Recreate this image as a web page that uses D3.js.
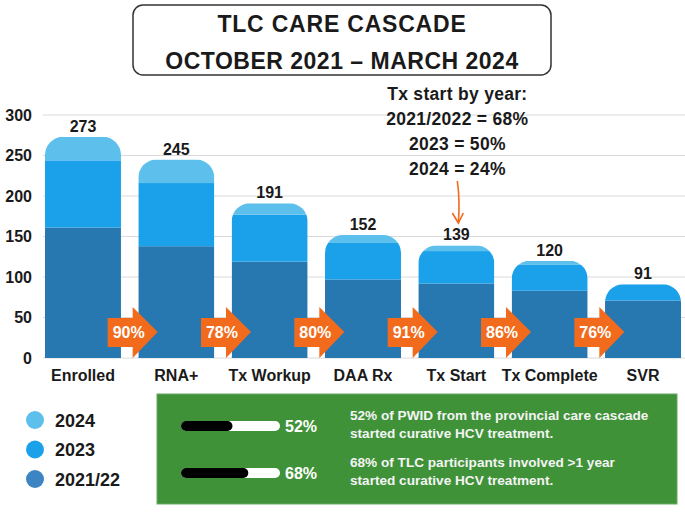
<!DOCTYPE html>
<html>
<head>
<meta charset="utf-8">
<script src="https://cdn.jsdelivr.net/npm/d3@7"></script>
<style>
  body { margin: 0; background: #fff; }
  svg { display: block; font-family: "Liberation Sans", Arial, sans-serif; font-weight: bold; }
</style>
</head>
<body>
<svg width="685" height="514"></svg>
<script>
// chart data
var stages = ['Enrolled', 'RNA+', 'Tx Workup', 'DAA Rx', 'Tx Start', 'Tx Complete', 'SVR'];
var y2122 = [161, 138, 119, 97, 92, 83, 71];
var y2023 = [83, 78, 58, 45, 40, 32, 20];
var y2024 = [29, 29, 14, 10, 7, 5, 0];
var totals = [273, 245, 191, 152, 139, 120, 91];
var stepPct = [90, 78, 80, 91, 86, 76];
var yTicks = [0, 50, 100, 150, 200, 250, 300];
var yearNotes = ['Tx start by year:', '2021/2022 = 68%', '2023 = 50%', '2024 = 24%'];
var legendYears = ['2024', '2023', '2021/22'];
var boxPct = [52, 68];
var boxNotes = [
  ['52% of PWID from the provincial care cascade', 'started curative HCV treatment.'],
  ['68% of TLC participants involved >1 year', 'started curative HCV treatment.']
];

var svg = d3.select('svg');
var ink = '#1a1a1a';
var orange = '#f26a1b';
var cols = {y2122: '#2777b1', y2023: '#1aa1ea', y2024: '#5dc0ec'};

// scales
var x = d3.scaleBand().domain(stages).range([45, 681]).paddingInner(0.186).paddingOuter(0);
var y = d3.scaleLinear().domain([0, 300]).range([358, 115]);
var bw = x.bandwidth();

// title box
svg.append('rect')
  .attr('x', 133).attr('y', 5).attr('width', 418).attr('height', 70)
  .attr('rx', 10)
  .style('fill', '#fff').style('stroke', '#333').style('stroke-width', 1.5);
svg.selectAll('text.title')
  .data(['TLC CARE CASCADE', 'OCTOBER 2021 \u2013 MARCH 2024'])
  .enter().append('text')
  .attr('class', 'title')
  .attr('x', 342)
  .attr('y', function(d, i) {return 32 + i * 36.5;})
  .attr('text-anchor', 'middle')
  .style('font-size', '23px')
  .style('letter-spacing', function(d, i) {return i ? '0.5px' : '0.8px';})
  .style('fill', ink)
  .text(function(d) {return d;});

// gridlines
svg.selectAll('line.grid')
  .data(yTicks)
  .enter().append('line')
  .attr('class', 'grid')
  .attr('x1', 43).attr('x2', 685)
  .attr('y1', function(d) {return y(d);})
  .attr('y2', function(d) {return y(d);})
  .style('stroke', '#dadada').style('stroke-width', 1);

// y axis labels
var yAxis = svg.append('g')
  .attr('transform', 'translate(40,0)')
  .call(d3.axisLeft(y).tickValues(yTicks).tickSize(0).tickPadding(8));
yAxis.select('.domain').remove();
yAxis.selectAll('text')
  .style('font-size', '16px').style('font-weight', 'bold')
  .style('font-family', '"Liberation Sans", Arial, sans-serif')
  .style('fill', ink);

// stacked bars, rounded on top via clip paths
var rows = stages.map(function(s, i) {
  return {stage: s, y2122: y2122[i], y2023: y2023[i], y2024: y2024[i], total: totals[i]};
});
var series = d3.stack().keys(['y2122', 'y2023', 'y2024'])(rows);

var defs = svg.append('defs');
defs.selectAll('clipPath')
  .data(rows)
  .enter().append('clipPath')
  .attr('id', function(d, i) {return 'clip-' + i;})
  .append('rect')
  .attr('x', function(d) {return x(d.stage);})
  .attr('y', function(d) {return y(d.y2122 + d.y2023 + d.y2024);})
  .attr('width', bw)
  .attr('height', function(d) {return y(0) - y(d.y2122 + d.y2023 + d.y2024) + 30;})
  .attr('rx', 18);

var bars = svg.selectAll('g.bar')
  .data(rows)
  .enter().append('g')
  .attr('class', 'bar')
  .attr('clip-path', function(d, i) {return 'url(#clip-' + i + ')';});

series.forEach(function(s) {
  bars.append('rect')
    .attr('x', function(d) {return x(d.stage);})
    .attr('width', bw)
    .attr('y', function(d, i) {return y(s[i][1]);})
    .attr('height', function(d, i) {return y(s[i][0]) - y(s[i][1]);})
    .style('fill', cols[s.key]);
});

// totals above bars
svg.selectAll('text.total')
  .data(rows)
  .enter().append('text')
  .attr('class', 'total')
  .attr('x', function(d) {return x(d.stage) + bw / 2;})
  .attr('y', function(d) {return y(d.y2122 + d.y2023 + d.y2024) - 5;})
  .attr('text-anchor', 'middle')
  .style('font-size', '16px')
  .style('fill', ink)
  .text(function(d) {return d.total;});

// category labels
svg.selectAll('text.cat')
  .data(stages)
  .enter().append('text')
  .attr('class', 'cat')
  .attr('x', function(d) {return x(d) + bw / 2;})
  .attr('y', 381)
  .attr('text-anchor', 'middle')
  .style('font-size', '16px')
  .style('fill', ink)
  .text(function(d) {return d;});

// orange step arrows between bars
function arrowPath(c) {
  var b = y(0);
  return 'M' + (c - 22) + ',' + (b - 40) + 'H' + (c + 3) + 'V' + (b - 51) +
    'L' + (c + 28) + ',' + (b - 26) + 'L' + (c + 3) + ',' + b +
    'V' + (b - 11) + 'H' + (c - 22) + 'Z';
}
var gap = x.step() - bw;
var arrows = svg.selectAll('g.step')
  .data(stepPct)
  .enter().append('g')
  .attr('class', 'step');
arrows.append('path')
  .attr('d', function(d, i) {return arrowPath(x(stages[i]) + bw + gap / 2);})
  .style('fill', orange);
arrows.append('text')
  .attr('x', function(d, i) {return x(stages[i]) + bw + gap / 2 - 1;})
  .attr('y', y(0) - 20)
  .attr('text-anchor', 'middle')
  .style('font-size', '16px')
  .style('fill', '#fff')
  .text(function(d) {return d + '%';});

// "Tx start by year" note with hand-drawn arrow
var noteX = x('Tx Start') + bw / 2;
svg.selectAll('text.note')
  .data(yearNotes)
  .enter().append('text')
  .attr('class', 'note')
  .attr('x', noteX + 1)
  .attr('y', function(d, i) {return 100 + i * 25;})
  .attr('text-anchor', 'middle')
  .style('font-size', '17.5px')
  .style('letter-spacing', '0.3px')
  .style('fill', ink)
  .text(function(d) {return d;});
svg.append('path')
  .attr('d', 'M' + (noteX + 1) + ',181 C' + (noteX + 3) + ',195 ' + (noteX + 3) + ',210 ' + (noteX + 2) + ',223')
  .style('fill', 'none').style('stroke', orange).style('stroke-width', 1.6);
svg.append('path')
  .attr('d', 'M' + (noteX - 4) + ',213 L' + (noteX + 2) + ',223 L' + (noteX + 7) + ',213')
  .style('fill', 'none').style('stroke', orange).style('stroke-width', 1.6);

// legend
var legCols = [cols.y2024, cols.y2023, '#3d85c2'];
var leg = svg.selectAll('g.leg')
  .data(legendYears)
  .enter().append('g')
  .attr('class', 'leg')
  .attr('transform', function(d, i) {return 'translate(35,' + (420 + i * 29.5) + ')';});
leg.append('circle')
  .attr('r', 9)
  .style('fill', function(d, i) {return legCols[i];});
leg.append('text')
  .attr('x', 20).attr('y', 6.5)
  .style('font-size', '18px')
  .style('fill', ink)
  .text(function(d) {return d;});

// green summary box
svg.append('rect')
  .attr('x', 157).attr('y', 394).attr('width', 520).attr('height', 110)
  .style('fill', '#3f9238').style('stroke', '#6aa864').style('stroke-width', 1);

var px = d3.scaleLinear().domain([0, 100]).range([181, 280]);
var prog = svg.selectAll('g.prog')
  .data(boxPct)
  .enter().append('g')
  .attr('class', 'prog')
  .attr('transform', function(d, i) {return 'translate(0,' + (426 + i * 47) + ')';});
prog.append('rect')
  .attr('x', px(0)).attr('y', -5).attr('width', px(100) - px(0)).attr('height', 10)
  .attr('rx', 5)
  .style('fill', '#fff');
prog.append('rect')
  .attr('x', px(0)).attr('y', -5)
  .attr('width', function(d) {return px(d) - px(0);})
  .attr('height', 10)
  .attr('rx', 5)
  .style('fill', '#000');
prog.append('text')
  .attr('x', 285).attr('y', 5.5)
  .style('font-size', '16px')
  .style('fill', '#fff')
  .text(function(d) {return d + '%';});

var notes = svg.selectAll('g.boxnote')
  .data(boxNotes)
  .enter().append('g')
  .attr('class', 'boxnote')
  .attr('transform', function(d, i) {return 'translate(350,' + (420 + i * 47) + ')';});
notes.selectAll('text')
  .data(function(d) {return d;})
  .enter().append('text')
  .attr('y', function(d, i) {return i * 18;})
  .style('font-size', '13.6px')
  .style('fill', '#f4f4f4')
  .text(function(d) {return d;});
</script>
</body>
</html>
